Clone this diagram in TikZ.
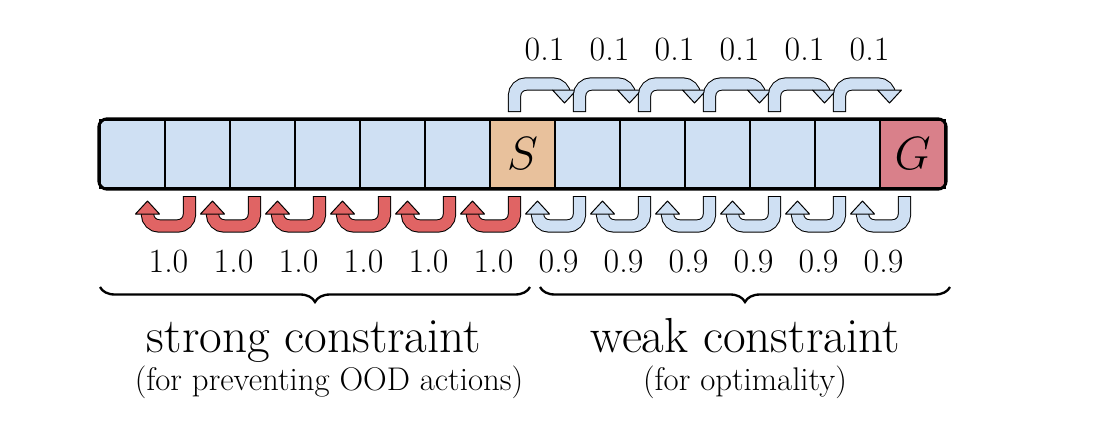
\documentclass[tikz,border=0pt]{standalone}
\usetikzlibrary{calc, decorations.pathreplacing}
\definecolor{cellblue}{RGB}{207,224,243}
\definecolor{startorange}{RGB}{232,193,156}
\definecolor{goalred}{RGB}{217,128,138}
\definecolor{arrowred}{RGB}{224,100,100}
\tikzset{
  cell/.style={draw=black, line width=0.07cm, fill=#1, minimum width=1.95cm, minimum height=2.04cm, inner sep=0pt},
  letter/.style={inner sep=0pt, scale=1.6, font=\fontsize{24}{28}\selectfont},
  prob/.style={font=\fontsize{29}{32}\selectfont},
  title/.style={inner sep=0pt, anchor=base, font=\fontsize{42}{46}\selectfont},
  subtitle/.style={inner sep=0pt, anchor=base, font=\fontsize{28}{32}\selectfont},
}
% fat outlined arrow: colour, path, tip base left, tip base right, tip
\newcommand\fatarrow[5]{%
  \draw[line width=0.40cm, black] #2;
  \draw[line width=0.34cm, #1, shorten <=0.03cm] #2;
  \filldraw[fill=#1, draw=black, line width=0.03cm, line join=round] #3 -- #4 -- #5 -- cycle;
}
\begin{document}
\begin{tikzpicture}[x=0.03cm, y=-0.03cm]
\useasboundingbox (0,0) rectangle (1101,420);
% cells
\foreach \i in {1,...,13} {
  \pgfmathsetmacro\cx{100+65*(\i-0.5)}
  \node[cell=cellblue] (c\i) at (\cx,154) {};
}
\node[cell=startorange] (c7) at (522.5,154) {};
\node[cell=goalred] (c13) at (912.5,154) {};
\node[letter] (s) at (c7) {$S$};
\node[letter] (g) at (c13) {$G$};
\draw[line width=0.09cm, rounded corners=0.25cm] (c1.north west) rectangle (c13.south east);
% upper arrows, weak to the right
\foreach \i in {7,...,12} {
  \pgfmathsetmacro\cx{100+65*(\i-0.5)}
  \pgfmathsetmacro\ex{\cx+42}
  \fatarrow{cellblue}{[rounded corners=0.35cm] (\cx-8,112) -- (\cx-8,84) -- (\ex,84) -- (\ex,90)}{(\ex-12,90)}{(\ex+12,90)}{(\ex,103)}
  \node[prob] (p\i) at (\cx+22,50) {0.1};
}
% lower arrows, strong (red) and weak (blue) to the left
\foreach \i in {1,...,12} {
  \pgfmathsetmacro\cx{100+65*(\i-0.5)}
  \pgfmathsetmacro\sx{\cx+57}
  \pgfmathsetmacro\ex{\cx+15}
  \ifnum\i<7 \def\col{arrowred}\def\lab{1.0}\else\def\col{cellblue}\def\lab{0.9}\fi
  \fatarrow{\col}{[rounded corners=0.35cm] (\sx,196) -- (\sx,226) -- (\ex,226) -- (\ex,214)}{(\ex-12,214)}{(\ex+12,214)}{(\ex,201)}
  \node[prob] (q\i) at (\cx+36,262) {\lab};
}
% braces
\coordinate (bl) at (100,287);
\coordinate (bm) at (530,287);
\coordinate (bm2) at (540,287);
\coordinate (br) at (950,287);
\draw[line width=0.07cm, decorate, decoration={brace, mirror, amplitude=0.45cm}] (bl) -- (bm);
\draw[line width=0.07cm, decorate, decoration={brace, mirror, amplitude=0.45cm}] (bm2) -- (br);
\node[title] (strong) at (314,352) {strong constraint};
\node[subtitle] (strongsub) at (329,390) {(for preventing OOD actions)};
\node[title] (weak) at (745,352) {weak constraint};
\node[subtitle] (weaksub) at (745,390) {(for optimality)};
\end{tikzpicture}
\end{document}
